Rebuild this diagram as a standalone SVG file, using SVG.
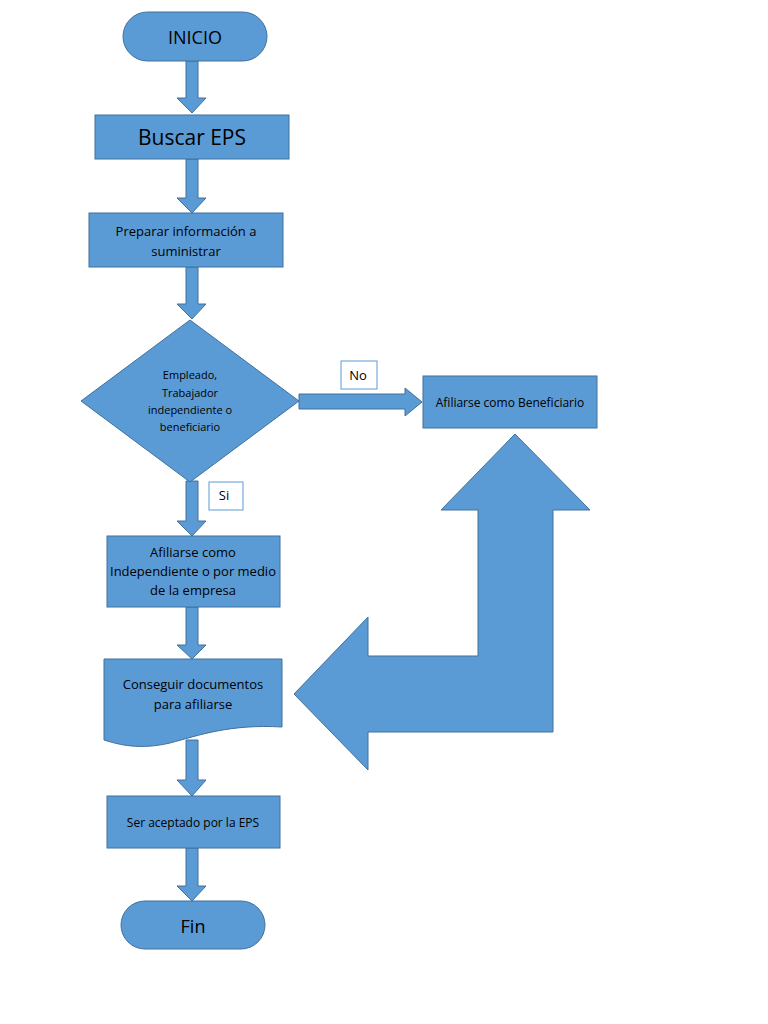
<svg xmlns="http://www.w3.org/2000/svg" width="768" height="1024" viewBox="0 0 768 1024">
<style>
.s{fill:#5b9bd5;stroke:#41719c;stroke-width:1}
.t{font-family:"Open Sans","Liberation Sans",sans-serif;fill:#000;text-anchor:middle}
.lb{fill:#fff;stroke:#5b9bd5;stroke-width:1}
</style>
<rect width="768" height="1024" fill="#fff"/>
<g id="connectors">
<polygon class="s" points="186,61 198,61 198,98 206,98 192,113 177,98 186,98"/>
<polygon class="s" points="186,159 198,159 198,198 206,198 192,213 177,198 186,198"/>
<polygon class="s" points="186,267 198,267 198,304 206,304 192,319 177,304 186,304"/>
<polygon class="s" points="186,481 198,481 198,521 206,521 192,536 177,521 186,521"/>
<polygon class="s" points="186,607 198,607 198,645 206,645 192,659 177,645 186,645"/>
<polygon class="s" points="186,740 198,740 198,780 206,780 192,796 177,780 186,780"/>
<polygon class="s" points="186,848 198,848 198,886 206,886 192,901 177,886 186,886"/>
<polygon class="s" points="299,394 405,394 405,388 422,402 405,416 405,409 299,409"/>
<polygon class="s" points="515,434 590,510 553,510 553,732 368,732 368,770 294,694 368,617 368,656 478,656 478,510 441,510"/>
<rect class="lb" x="341" y="361" width="36" height="28"/>
<text class="t" x="358" y="380" font-size="13">No</text>
<rect class="lb" x="209" y="482" width="34" height="28"/>
<text class="t" x="224" y="500" font-size="13">Si</text>
</g>
<g id="inicio"><rect class="s" x="123" y="12" width="144" height="49" rx="24.5"/><text class="t" x="195" y="44" font-size="18">INICIO</text></g>
<g id="buscar"><rect class="s" x="95" y="115" width="194" height="44"/><text class="t" x="192" y="145" font-size="21">Buscar EPS</text></g>
<g id="preparar"><rect class="s" x="89" y="213" width="194" height="54"/><text class="t" x="186" y="236" font-size="13">Preparar información a</text><text class="t" x="186" y="256" font-size="13">suministrar</text></g>
<g id="decision"><polygon class="s" points="190,320 299,401 190,482 81,401"/>
<text class="t" x="190" y="379" font-size="11">Empleado,</text><text class="t" x="190" y="397" font-size="11">Trabajador</text><text class="t" x="190" y="414" font-size="11">independiente o</text><text class="t" x="190" y="431" font-size="11">beneficiario</text></g>
<g id="beneficiario"><rect class="s" x="423" y="376" width="174" height="52"/><text class="t" x="510" y="407" font-size="12">Afiliarse como Beneficiario</text></g>
<g id="afiliarse"><rect class="s" x="107" y="536" width="173" height="71"/><text class="t" x="193" y="557" font-size="13">Afiliarse como</text><text class="t" x="193" y="576" font-size="13">Independiente o por medio</text><text class="t" x="193" y="595" font-size="13">de la empresa</text></g>
<g id="documentos"><path class="s" d="M104,659 H282 V727 C230,724 200,735 170,743 C140,750 120,745 104,740 Z"/><text class="t" x="193" y="689" font-size="13">Conseguir documentos</text><text class="t" x="193" y="709" font-size="13">para afiliarse</text></g>
<g id="aceptado"><rect class="s" x="107" y="796" width="173" height="52"/><text class="t" x="193" y="827" font-size="12">Ser aceptado por la EPS</text></g>
<g id="fin"><rect class="s" x="121" y="901" width="144" height="48" rx="24"/><text class="t" x="193" y="933" font-size="18">Fin</text></g>
</svg>
